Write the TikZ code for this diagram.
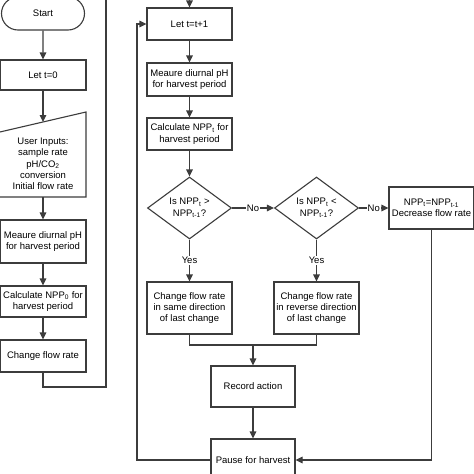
\documentclass[tikz,border=0pt]{standalone}
\usepackage{fontspec}
\setmainfont{Liberation Sans}
\usetikzlibrary{shapes.geometric,shapes.misc,arrows.meta}
\definecolor{ln}{HTML}{3C3C3C}
\tikzset{
  box/.style={draw=ln, line width=1.1pt, rectangle, align=center, inner sep=1pt,
    font=\fontsize{9.5}{11.3}\selectfont},
  dia/.style={draw=ln, line width=1.1pt, diamond, aspect=1.35, inner sep=0pt,
    minimum width=84pt, minimum height=62pt, align=center,
    font=\fontsize{9.5}{11.3}\selectfont},
  conn/.style={draw=ln, line width=1.1pt},
  arr/.style={conn, -{Triangle[width=6.5pt,length=7pt]}},
  lbl/.style={fill=white, inner sep=1pt, font=\fontsize{9.5}{11.3}\selectfont}
}
\begin{document}
\begin{tikzpicture}[x=1pt,y=-1pt]
\useasboundingbox (0,0) rectangle (474,474);
\clip (0,0) rectangle (474,474);
\fill[white] (0,0) rectangle (474,474);

% left column
\node[box, rounded rectangle, minimum width=85pt, minimum height=33pt] (start) at (43,13.5) {Start};
\node[box, minimum width=86pt, minimum height=30pt] (let0) at (43,75) {Let t=0};
\draw[conn] (-10,134.3) -- (86,112) -- (86,197) -- (-10,197);
\node[box, draw=none, minimum width=86pt, minimum height=70pt] (inp) at (43,164)
  {User Inputs:\\sample rate\\pH/CO\textsubscript{2}\\conversion\\Initial flow rate};
\coordinate (inptop) at (43,122);
\coordinate (inpbot) at (43,197);
\node[box, minimum width=86pt, minimum height=43pt] (meas0) at (43,241.5) {Meaure diurnal pH\\for harvest period};
\node[box, minimum width=86pt, minimum height=31pt] (calc0) at (43,301.5) {Calculate NPP\textsubscript{0} for\\harvest period};
\node[box, minimum width=86pt, minimum height=32pt] (chg0) at (43,356) {Change flow rate};

\draw[arr] (start) -- (let0);
\draw[arr] (let0.south) -- (inptop);
\draw[arr] (inpbot) -- (meas0.north);
\draw[arr] (meas0) -- (calc0);
\draw[arr] (calc0) -- (chg0);
\coordinate (c1) at (43,387);
\coordinate (c2) at (106,387);
\coordinate (topL) at (106,-10);
\draw[conn] (chg0.south) -- (c1) -- (c2) -- (topL);

% right part
\node[box, minimum width=85pt, minimum height=32pt] (let1) at (189.5,24) {Let t=t+1};
\coordinate (topR) at (189.5,-10);
\draw[arr] (topR) -- (let1);
\node[box, minimum width=85pt, minimum height=33pt] (meas1) at (189.5,79.5) {Meaure diurnal pH\\for harvest period};
\node[box, minimum width=85pt, minimum height=32pt] (calc1) at (189.5,134) {Calculate NPP\textsubscript{t} for\\harvest period};
\node[dia] (d1) at (189.5,208) {Is NPP\textsubscript{t} >\\NPP\textsubscript{t-1}?};
\node[dia] (d2) at (316.5,208) {Is NPP\textsubscript{t} <\\NPP\textsubscript{t-1}?};
\node[box, minimum width=85pt, minimum height=42pt] (npp) at (431.5,208) {NPP\textsubscript{t}=NPP\textsubscript{t-1}\\Decrease flow rate};
\node[box, minimum width=85pt, minimum height=52pt] (same) at (189.5,308) {Change flow rate\\in same direction\\of last change};
\node[box, minimum width=85pt, minimum height=52pt] (rev) at (316.5,308) {Change flow rate\\in reverse direction\\of last change};
\node[box, minimum width=84pt, minimum height=41pt] (rec) at (253,386.5) {Record action};
\node[box, minimum width=84pt, minimum height=42pt] (pause) at (253,460) {Pause for harvest};

\draw[arr] (let1) -- (meas1);
\draw[arr] (meas1) -- (calc1);
\draw[arr] (calc1) -- (d1);
\draw[arr] (d1) -- node[lbl] {No} (d2);
\draw[arr] (d2) -- node[lbl] {No} (npp);
\draw[arr] (d1) -- node[lbl, pos=0.5] {Yes} (same);
\draw[arr] (d2) -- node[lbl, pos=0.5] {Yes} (rev);
\coordinate (j) at (253,345);
\draw[conn] (same.south) |- (j);
\draw[conn] (rev.south) |- (j);
\draw[arr] (j) -- (rec);
\draw[arr] (rec) -- (pause);
\draw[arr] (npp.south) |- (pause.east);
\coordinate (lb) at (137,460);
\coordinate (lt) at (137,24);
\draw[arr] (pause.west) -- (lb) -- (lt) -- (let1.west);
\end{tikzpicture}
\end{document}
